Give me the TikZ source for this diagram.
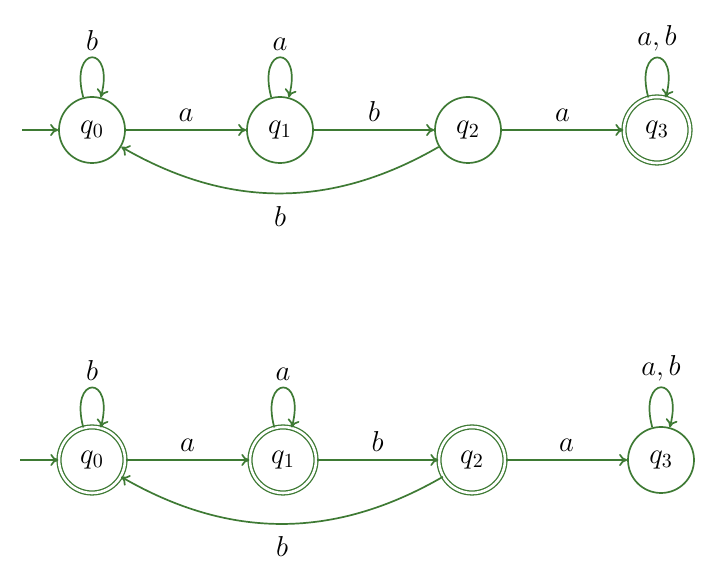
\documentclass[tikz,border=0pt]{standalone}
\usetikzlibrary{arrows.meta}
\definecolor{sg}{RGB}{62,122,52}
\begin{document}
\begin{tikzpicture}[x=0.5pt,y=0.5pt,font=\fontsize{14}{17}\selectfont,
  st/.style={circle,draw=sg,line width=0.85pt,minimum size=33pt,inner sep=0pt},
  acc/.style={st,double=white,double distance=1.3pt,line width=0.65pt},
  tr/.style={draw=sg,line width=0.85pt,-{To[length=4pt,width=6pt]}},
  lb/.style={midway,above,inner sep=4pt}]
\useasboundingbox (0,0) rectangle (714,562);
\foreach \r/\y in {t/432,b/102}{}
% top row
\node[st] (a0) at (92,432) {$q_0$};
\node[st] (a1) at (280,432) {$q_1$};
\node[st] (a2) at (468,432) {$q_2$};
\node[acc] (a3) at (657,432) {$q_3$};
\coordinate (ai) at (22,432);
\draw[tr] (ai) -- (a0);
\draw[tr] (a0) -- node[lb]{$a$} (a1);
\draw[tr] (a1) -- node[lb]{$b$} (a2);
\draw[tr] (a2) -- node[lb]{$a$} (a3);
\draw[tr] (a2) to[bend left=30] node[midway,below,inner sep=6pt]{$b$} (a0);
\foreach \n/\l in {a0/b,a1/a,a3/{a,b}}{
  \draw[tr] (\n.105) .. controls +(105:55) and +(75:55) .. node[pos=0.5,above,inner sep=3pt]{$\l$} (\n.75);}
% bottom row
\node[acc] (b0) at (92,102) {$q_0$};
\node[acc] (b1) at (283,102) {$q_1$};
\node[acc] (b2) at (472,102) {$q_2$};
\node[st] (b3) at (661,102) {$q_3$};
\coordinate (bi) at (20,102);
\draw[tr] (bi) -- (b0);
\draw[tr] (b0) -- node[lb]{$a$} (b1);
\draw[tr] (b1) -- node[lb]{$b$} (b2);
\draw[tr] (b2) -- node[lb]{$a$} (b3);
\draw[tr] (b2) to[bend left=30] node[midway,below,inner sep=6pt]{$b$} (b0);
\foreach \n/\l in {b0/b,b1/a,b3/{a,b}}{
  \draw[tr] (\n.105) .. controls +(105:55) and +(75:55) .. node[pos=0.5,above,inner sep=3pt]{$\l$} (\n.75);}
\end{tikzpicture}
\end{document}
